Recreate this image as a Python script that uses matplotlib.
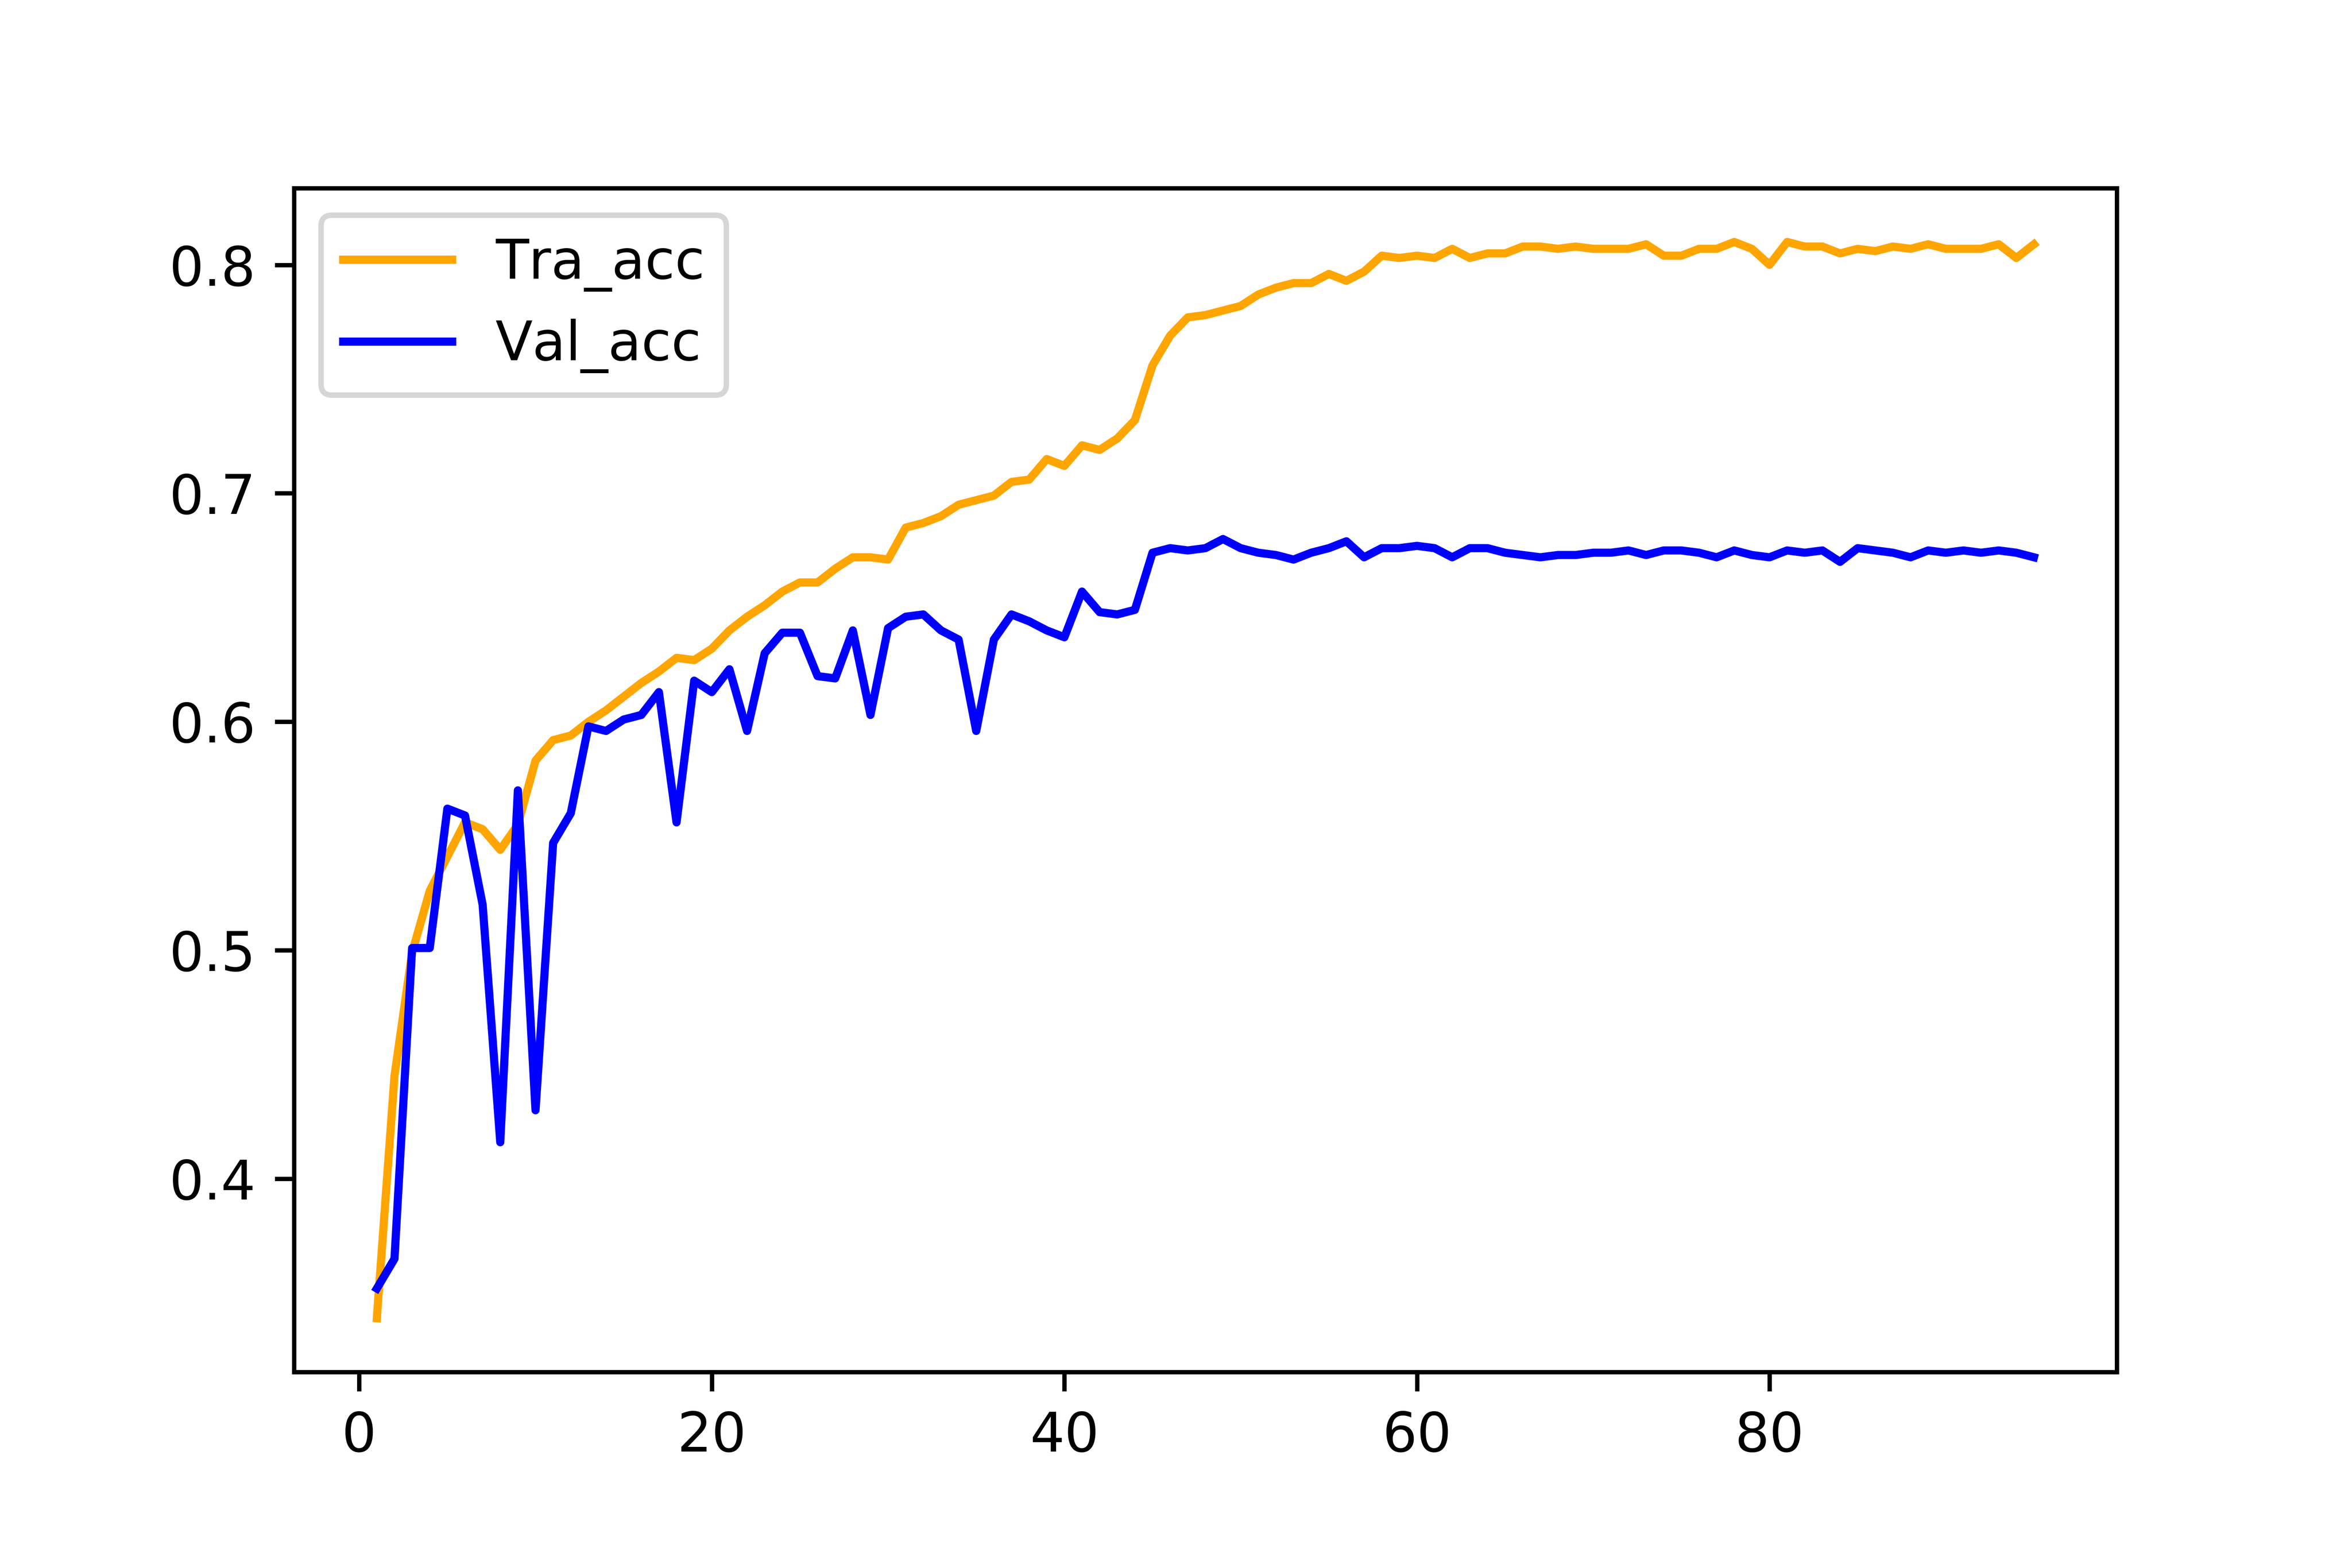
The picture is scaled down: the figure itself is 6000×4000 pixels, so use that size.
import matplotlib
matplotlib.use("Agg")
import matplotlib.pyplot as plt
import numpy as np

# older matplotlib kerning, legend text comes out slightly wider
plt.rcParams['text.kerning_factor'] = 6

epochs = np.arange(1, 96)

tra_acc = [0.339, 0.445, 0.499, 0.526, 0.541, 0.556, 0.553, 0.544, 0.555, 0.583,
           0.592, 0.594, 0.600, 0.605, 0.611, 0.617, 0.622, 0.628, 0.627, 0.632,
           0.640, 0.646, 0.651, 0.657, 0.661, 0.661, 0.667, 0.672, 0.672, 0.671,
           0.685, 0.687, 0.690, 0.695, 0.697, 0.699, 0.705, 0.706, 0.715, 0.712,
           0.721, 0.719, 0.724, 0.732, 0.756, 0.769, 0.777, 0.778, 0.780, 0.782,
           0.787, 0.790, 0.792, 0.792, 0.796, 0.793, 0.797, 0.804, 0.803, 0.804,
           0.803, 0.807, 0.803, 0.805, 0.805, 0.808, 0.808, 0.807, 0.808, 0.807,
           0.807, 0.807, 0.809, 0.804, 0.804, 0.807, 0.807, 0.810, 0.807, 0.800,
           0.810, 0.808, 0.808, 0.805, 0.807, 0.806, 0.808, 0.807, 0.809, 0.807,
           0.807, 0.807, 0.809, 0.803, 0.809]

val_acc = [0.352, 0.365, 0.501, 0.501, 0.562, 0.559, 0.520, 0.416, 0.570, 0.430,
           0.547, 0.560, 0.598, 0.596, 0.601, 0.603, 0.613, 0.556, 0.618, 0.613,
           0.623, 0.596, 0.630, 0.639, 0.639, 0.620, 0.619, 0.640, 0.603, 0.641,
           0.646, 0.647, 0.640, 0.636, 0.596, 0.636, 0.647, 0.644, 0.640, 0.637,
           0.657, 0.648, 0.647, 0.649, 0.674, 0.676, 0.675, 0.676, 0.680, 0.676,
           0.674, 0.673, 0.671, 0.674, 0.676, 0.679, 0.672, 0.676, 0.676, 0.677,
           0.676, 0.672, 0.676, 0.676, 0.674, 0.673, 0.672, 0.673, 0.673, 0.674,
           0.674, 0.675, 0.673, 0.675, 0.675, 0.674, 0.672, 0.675, 0.673, 0.672,
           0.675, 0.674, 0.675, 0.670, 0.676, 0.675, 0.674, 0.672, 0.675, 0.674,
           0.675, 0.674, 0.675, 0.674, 0.672]

fig = plt.figure(figsize=(6, 4))
fig.subplots_adjust(bottom=0.125)
plt.plot(epochs, tra_acc, color="orange", label="Tra_acc")
plt.plot(epochs, val_acc, color="blue", label="Val_acc")
plt.legend(loc="upper left")
plt.savefig("out.png", dpi=1000)
